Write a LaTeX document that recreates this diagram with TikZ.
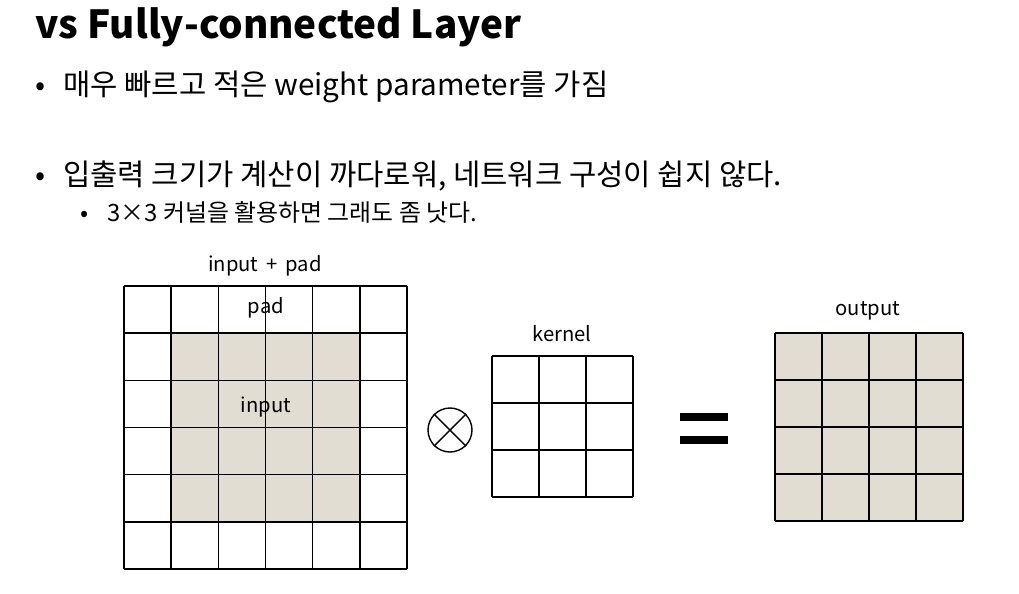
\documentclass[tikz,border=0pt]{standalone}
\usepackage{fontspec}
\setmainfont{Noto Sans CJK KR}
\usetikzlibrary{positioning, calc}
\definecolor{cellfill}{RGB}{226,221,211}
\tikzset{
    cellbox/.style = {draw=black, line width=0.8pt},
    gridlabel/.style = {font=\fontsize{11.5}{13}\selectfont, inner sep=0pt},
    bullettext/.style = {anchor=base west, inner sep=0pt, font=\fontsize{16.9}{19}\selectfont},
    subtext/.style = {anchor=base west, inner sep=0pt, font=\fontsize{13.6}{15}\selectfont},
}
\begin{document}
\begin{tikzpicture}[x=0.02cm, y=-0.02cm]
        \useasboundingbox (0,0) rectangle (1019,593);
        \node [anchor=base west, inner sep=0pt, font=\bfseries\fontsize{22}{26}\selectfont] (title) at (35,38) {vs Fully-connected Layer};
        \node [bullettext] (b1) at (35,95) {•\hspace{0.6em}매우 빠르고 적은 weight parameter를 가짐};
        \node [bullettext] (b2) at (35,185) {•\hspace{0.6em}입출력 크기가 계산이 까다로워, 네트워크 구성이 쉽지 않다.};
        \node [subtext] (b3) at (80,221) {•\hspace{0.8em}3×3 커널을 활용하면 그래도 좀 낫다.};
        % input + pad
        \fill [cellfill] (171,333) rectangle (360,522);
        \foreach \i in {0,...,6} {
            \draw [cellbox] ($(124,286)+(\i*47.17,0)$) -- ++(0,283);
            \draw [cellbox] ($(124,286)+(0,\i*47.17)$) -- ++(283,0);
        }
        \node [gridlabel] (inpadlabel) at (265,266) {input \,+\, pad};
        \node [gridlabel] (padlabel) at (266,308) {pad};
        \node [gridlabel] (inputlabel) at (266,407) {input};
        % operator
        \node [draw, circle, line width=0.8pt, inner sep=0pt, minimum size=0.88cm] (conv) at (450,430) {};
        \draw [line width=0.8pt] (conv.north west) -- (conv.south east);
        \draw [line width=0.8pt] (conv.north east) -- (conv.south west);
        % kernel
        \foreach \i in {0,...,3} {
            \draw [cellbox] ($(492,356)+(\i*47,0)$) -- ++(0,141);
            \draw [cellbox] ($(492,356)+(0,\i*47)$) -- ++(141,0);
        }
        \node [gridlabel] (kernellabel) at (562,334) {kernel};
        % equals
        \fill (680,413) rectangle (728,421);
        \fill (680,436) rectangle (728,444);
        % output
        \fill [cellfill] (775,333) rectangle (963,521);
        \foreach \i in {0,...,4} {
            \draw [cellbox] ($(775,333)+(\i*47,0)$) -- ++(0,188);
            \draw [cellbox] ($(775,333)+(0,\i*47)$) -- ++(188,0);
        }
        \node [gridlabel] (outputlabel) at (868,311) {output};
\end{tikzpicture}
\end{document}
